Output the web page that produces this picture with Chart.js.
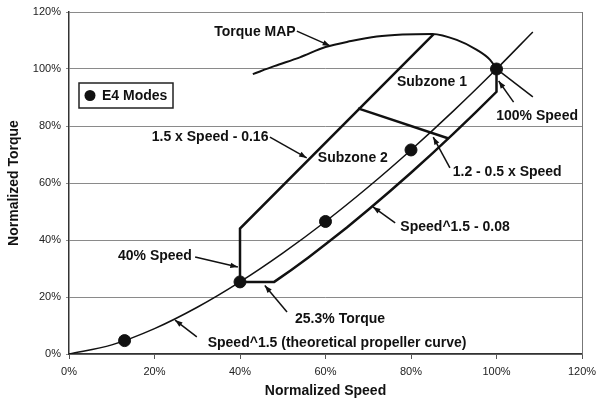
<!DOCTYPE html>
<html>
<head>
<meta charset="utf-8">
<script src="https://cdn.jsdelivr.net/npm/chart.js@4/dist/chart.umd.min.js"></script>
<style>
  body { margin: 0; background: #fff; }
  canvas { display: block; }
</style>
</head>
<body>
<canvas id="zoneChart" width="604" height="410"></canvas>
<script>
// values (percent)
const modeSpeed = [13, 40, 60, 80, 100];
const modeTorque = [4.7, 25.3, 46.5, 71.6, 100];

const propSpeed = [0, 10, 20, 30, 40, 50, 60, 70, 80, 90, 100, 108.5];
const propTorque = [0, 3.2, 8.9, 16.4, 25.3, 35.4, 46.5, 58.6, 71.6, 85.4, 100, 113];

const mapSpeed = [43, 48, 54, 60, 66, 72, 78, 85, 90.7, 95.4, 98.5, 100];
const mapTorque = [98.2, 101.0, 104.1, 107.7, 109.8, 111.4, 112.1, 112.3, 110.2, 106.7, 103.2, 100];

const upperSpeed = [40, 40, 85.3];
const upperTorque = [25.3, 44, 112.2];

const lowerSpeed = [40, 48, 52, 56, 60, 65, 70, 75, 80, 85, 90, 95, 100, 100];
const lowerTorque = [25.3, 25.3, 29.5, 33.9, 38.5, 44.4, 50.6, 57.0, 63.6, 70.4, 77.4, 84.6, 92, 100];

const splitSpeed = [67.6, 88.8];
const splitTorque = [86.2, 75.6];

const xTicks = [0, 20, 40, 60, 80, 100, 120];
const yTicks = [0, 20, 40, 60, 80, 100, 120];

function pts(xs, ys) {
  return xs.map((x, i) => ({ x: x, y: ys[i] }));
}

const FONT = "'Liberation Sans', Arial, sans-serif";
const INK = "#111";

// text labels with arrows, in data units
const notes = [
  { text: "Torque MAP", x: 43.5, y: 113, arrows: [[53.3, 113.3, 61.1, 108.1, true]] },
  { text: "Subzone 1", x: 84.9, y: 95.4, arrows: [] },
  { text: "Subzone 2", x: 66.4, y: 68.8, arrows: [] },
  { text: "1.5 x Speed - 0.16", x: 33, y: 76.1, arrows: [[47.0, 76.1, 55.6, 68.8, true]] },
  { text: "1.2 - 0.5 x Speed", x: 102.5, y: 63.9, arrows: [[89.1, 65.3, 85.2, 76.1, true]] },
  { text: "100% Speed", x: 109.5, y: 83.5, arrows: [[104.0, 88.4, 100.5, 95.8, true], [108.5, 90.2, 100.9, 99, false]] },
  { text: "Speed^1.5 - 0.08", x: 90.3, y: 44.6, arrows: [[76.3, 46, 71.1, 51.6, true]] },
  { text: "40% Speed", x: 20.1, y: 34.4, arrows: [[29.5, 34.0, 39.5, 30.5, true]] },
  { text: "25.3% Torque", x: 63.4, y: 12.3, arrows: [[51.0, 14.7, 45.8, 24.0, true]] },
  { text: "Speed^1.5 (theoretical propeller curve)", x: 62.7, y: 3.9, arrows: [[29.9, 6, 24.8, 11.9, true]] }
];

const notesPlugin = {
  id: "notes",
  afterDatasetsDraw(chart) {
    const { ctx, chartArea, scales } = chart;
    const sx = scales.x, sy = scales.y;
    ctx.save();
    // right border of plot
    ctx.strokeStyle = "#777";
    ctx.lineWidth = 1;
    ctx.beginPath();
    ctx.moveTo(chartArea.right + 0.5, chartArea.top);
    ctx.lineTo(chartArea.right + 0.5, chartArea.bottom);
    ctx.stroke();

    ctx.fillStyle = INK;
    ctx.strokeStyle = INK;
    ctx.font = "bold 14px " + FONT;
    ctx.textAlign = "center";
    ctx.textBaseline = "middle";
    notes.forEach(n => {
      ctx.fillText(n.text, sx.getPixelForValue(n.x), sy.getPixelForValue(n.y));
      n.arrows.forEach(a => {
        const x1 = sx.getPixelForValue(a[0]), y1 = sy.getPixelForValue(a[1]);
        const x2 = sx.getPixelForValue(a[2]), y2 = sy.getPixelForValue(a[3]);
        ctx.lineWidth = 1.5;
        ctx.beginPath();
        ctx.moveTo(x1, y1);
        ctx.lineTo(x2, y2);
        ctx.stroke();
        if (a[4]) {
          const ang = Math.atan2(y2 - y1, x2 - x1);
          ctx.beginPath();
          ctx.moveTo(x2, y2);
          ctx.lineTo(x2 - 8 * Math.cos(ang - 0.35), y2 - 8 * Math.sin(ang - 0.35));
          ctx.lineTo(x2 - 8 * Math.cos(ang + 0.35), y2 - 8 * Math.sin(ang + 0.35));
          ctx.closePath();
          ctx.fill();
        }
      });
    });

    // legend box
    const lx = chartArea.left + 10, ly = chartArea.top + 71;
    ctx.lineWidth = 1.5;
    ctx.strokeStyle = "#222";
    ctx.strokeRect(lx, ly, 94, 25);
    ctx.beginPath();
    ctx.arc(lx + 11, ly + 12.5, 5.5, 0, Math.PI * 2);
    ctx.fill();
    ctx.textAlign = "left";
    ctx.fillText("E4 Modes", lx + 23, ly + 13);
    ctx.restore();
  }
};

const lineSet = (data, width, extra) => Object.assign({
  data: data,
  showLine: true,
  borderColor: INK,
  backgroundColor: INK,
  borderWidth: width,
  pointRadius: 0,
  fill: false
}, extra || {});

const chart = new Chart(document.getElementById("zoneChart").getContext("2d"), {
  type: "scatter",
  data: {
    datasets: [
      {
        label: "E4 Modes",
        data: pts(modeSpeed, modeTorque),
        pointRadius: 6,
        pointBackgroundColor: INK,
        pointBorderColor: INK,
        showLine: false
      },
      lineSet(pts(propSpeed, propTorque), 1.5, { cubicInterpolationMode: "monotone" }),
      lineSet(pts(mapSpeed, mapTorque), 2, { cubicInterpolationMode: "monotone" }),
      lineSet(pts(upperSpeed, upperTorque), 2.5),
      lineSet(pts(lowerSpeed, lowerTorque), 2.5),
      lineSet(pts(splitSpeed, splitTorque), 2.5)
    ]
  },
  options: {
    responsive: false,
    animation: false,
    layout: { padding: { top: 12, right: 22, left: 0, bottom: 0 } },
    plugins: {
      legend: { display: false },
      tooltip: { enabled: false }
    },
    scales: {
      x: {
        type: "linear",
        min: 0,
        max: 120,
        afterFit: s => { s.height = 56; },
        afterBuildTicks: s => { s.ticks = xTicks.map(v => ({ value: v })); },
        ticks: {
          callback: v => v + "%",
          font: { family: FONT, size: 11 },
          color: "#222",
          padding: 6,
          maxRotation: 0
        },
        grid: { drawOnChartArea: false, drawTicks: true, tickLength: 5, color: "#555" },
        border: { color: "#333", width: 1.5 },
        title: {
          display: true,
          text: "Normalized Speed",
          font: { family: FONT, size: 14, weight: "bold" },
          color: INK,
          padding: { top: 0, bottom: 10 }
        }
      },
      y: {
        type: "linear",
        min: 0,
        max: 120,
        afterFit: s => { s.width = 69; },
        afterBuildTicks: s => { s.ticks = yTicks.map(v => ({ value: v })); },
        ticks: {
          callback: v => v + "%",
          font: { family: FONT, size: 11 },
          color: "#222",
          padding: 5
        },
        grid: { color: "#8a8a8a", lineWidth: 1, tickLength: 3 },
        border: { color: "#333", width: 1.5 },
        title: {
          display: true,
          text: "Normalized Torque",
          font: { family: FONT, size: 14, weight: "bold" },
          color: INK,
          padding: { top: 6, bottom: 0 }
        }
      }
    }
  },
  plugins: [notesPlugin]
});
</script>
</body>
</html>
